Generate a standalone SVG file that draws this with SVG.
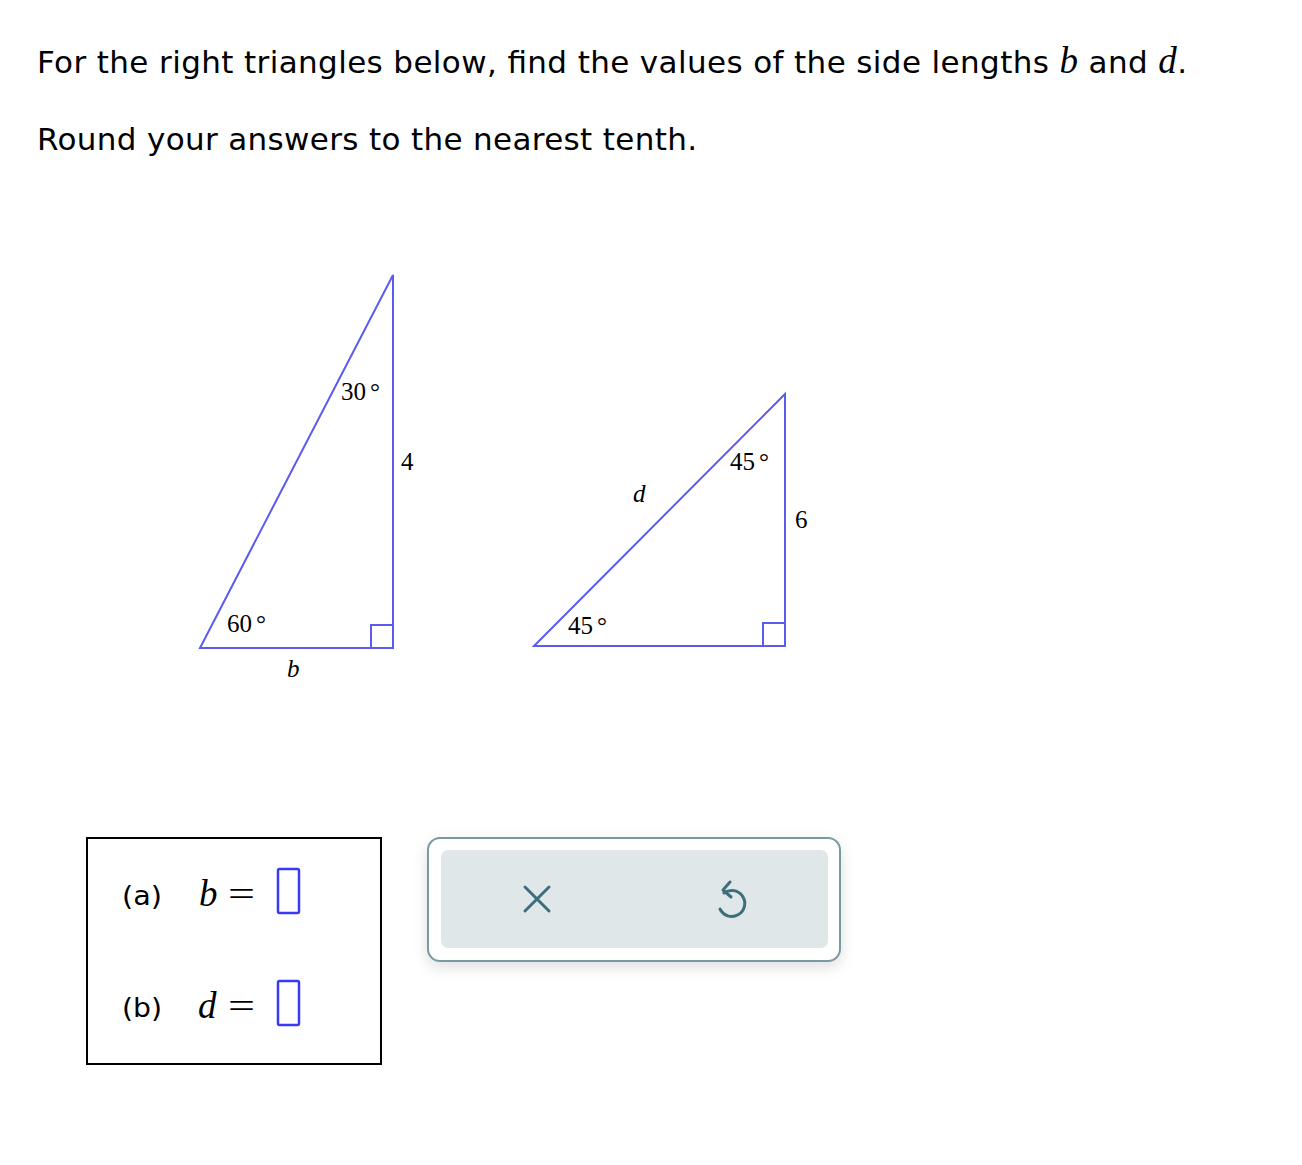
<svg xmlns="http://www.w3.org/2000/svg" width="1302" height="1165" viewBox="0 0 1302 1165">
<style>
.q{font-family:"DejaVu Sans",Verdana,sans-serif;font-size:31px;fill:#000}
.m{font-family:"Liberation Serif","Times New Roman",serif;fill:#000}
.mi{font-family:"Liberation Serif","Times New Roman",serif;font-style:italic;fill:#000}
.lbl{font-family:"Liberation Serif","Times New Roman",serif;font-size:25px;fill:#000}
.tri{fill:none;stroke:#5b5bf0;stroke-width:2}
.ans{font-family:"DejaVu Sans",Verdana,sans-serif;font-size:27px;fill:#000}
.ib{fill:none;stroke:#3a3af5;stroke-width:2.5}
.ic{fill:none;stroke:#3d6e7c;stroke-width:3;stroke-linecap:round;stroke-linejoin:round}
</style>
<defs>
<filter id="sh" x="-10%" y="-20%" width="120%" height="160%">
<feDropShadow dx="0" dy="5" stdDeviation="7" flood-color="#000" flood-opacity="0.13"/>
</filter>
</defs>
<rect width="1302" height="1165" fill="#fff"/>
<g id="question">
<text class="q" x="37" y="73" textLength="1150" lengthAdjust="spacing">For the right triangles below, find the values of the side lengths <tspan class="mi" font-size="37">b</tspan> and <tspan class="mi" font-size="37">d</tspan>.</text>
<text class="q" x="37" y="150" textLength="660" lengthAdjust="spacing">Round your answers to the nearest tenth.</text>
</g>
<g id="triangle1">
<polygon class="tri" points="200,648 393,648 393,275"/>
<polyline class="tri" points="371,648 371,625 393,625"/>
<text class="lbl" x="341" y="400">30<tspan dx="4">°</tspan></text>
<text class="lbl" x="401" y="470">4</text>
<text class="lbl" x="227" y="632">60<tspan dx="4">°</tspan></text>
<text class="lbl" x="287" y="677" font-style="italic">b</text>
</g>
<g id="triangle2">
<polygon class="tri" points="534,646 785,646 785,394"/>
<polyline class="tri" points="763,646 763,623 785,623"/>
<text class="lbl" x="730" y="470">45<tspan dx="4">°</tspan></text>
<text class="lbl" x="633" y="502" font-style="italic">d</text>
<text class="lbl" x="795" y="528">6</text>
<text class="lbl" x="568" y="634">45<tspan dx="4">°</tspan></text>
</g>
<g id="answers">
<rect x="87" y="838" width="294" height="226" fill="#fff" stroke="#000" stroke-width="2"/>
<text class="ans" x="122" y="905" textLength="40" lengthAdjust="spacingAndGlyphs">(a)</text>
<text class="mi" x="199" y="906" font-size="37">b</text>
<text class="m" x="228" y="906" font-size="36" textLength="27" lengthAdjust="spacingAndGlyphs">=</text>
<rect class="ib" x="278" y="869" width="21" height="44" rx="1.5"/>
<text class="ans" x="122" y="1017" textLength="40" lengthAdjust="spacingAndGlyphs">(b)</text>
<text class="mi" x="198" y="1018" font-size="37">d</text>
<text class="m" x="228" y="1018" font-size="36" textLength="27" lengthAdjust="spacingAndGlyphs">=</text>
<rect class="ib" x="278" y="981" width="21" height="44" rx="1.5"/>
</g>
<g id="buttons">
<rect x="428" y="838" width="412" height="123" rx="12" fill="#fff" stroke="#7a9aa3" stroke-width="2" filter="url(#sh)"/>
<rect x="441" y="850" width="387" height="98" rx="7" fill="#e0e7e9"/>
<path class="ic" d="M525,887 L549,911 M549,887 L525,911"/>
<path class="ic" d="M724,893 A13,13 0 1 1 720,909"/>
<path class="ic" d="M730,882 L723,890 L731,897"/>
</g>
</svg>
